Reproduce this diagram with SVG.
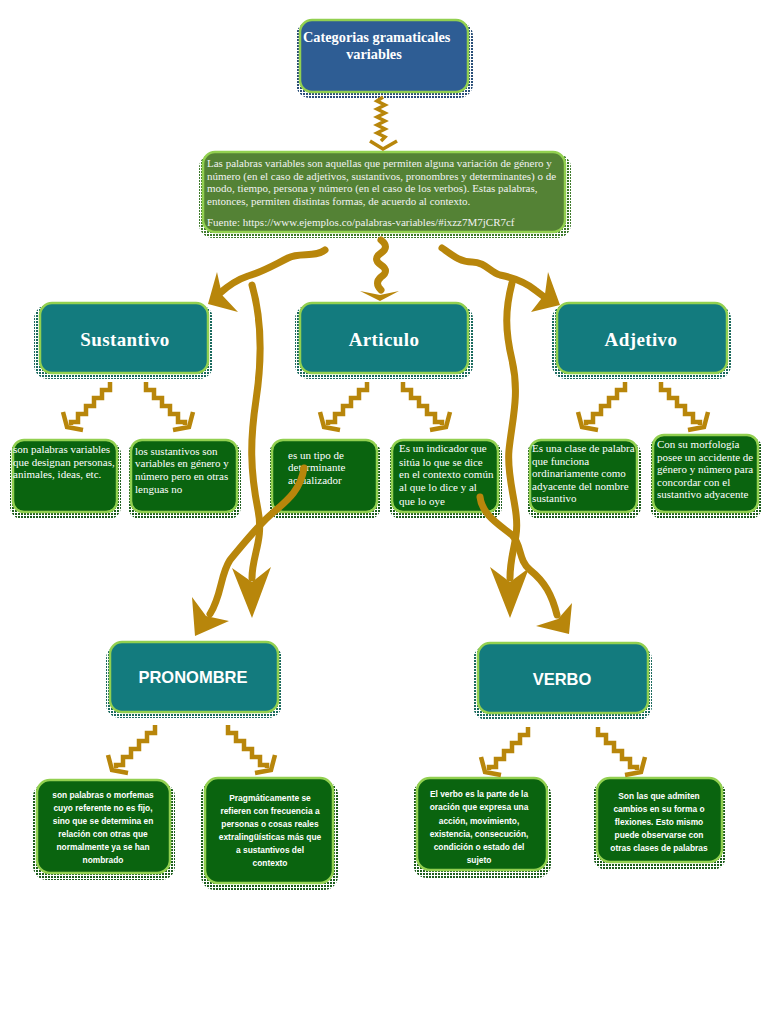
<svg xmlns="http://www.w3.org/2000/svg" xmlns:xlink="http://www.w3.org/1999/xlink" width="768" height="1024" viewBox="0 0 768 1024">
<style>
.bg{fill:#ffffff}
.frame{stroke:#92d050;stroke-width:2.5}
.blue{fill:#2e5d94}
.olive{fill:#548235}
.teal{fill:#137b7e}
.leaf{fill:#0a640f}
.arrow{fill:none;stroke:#b8860b;stroke-width:7;stroke-linecap:round;stroke-linejoin:round}
.head{fill:#b8860b}
.stair{fill:none;stroke:#b8860b;stroke-width:4.5;stroke-linejoin:miter;stroke-linecap:butt}
.zig{fill:none;stroke:#b8860b;stroke-width:3.5;stroke-linejoin:miter}
.t-title{font-family:"Liberation Serif",serif;font-weight:bold;font-size:14.3px;fill:#ffffff}
.t-info{font-family:"Liberation Serif",serif;font-size:11px;fill:#f2f2f2}
.t-cat{font-family:"Liberation Serif",serif;font-weight:bold;font-size:19px;fill:#ffffff;text-anchor:middle;letter-spacing:0.4px}
.t-leaf{font-family:"Liberation Serif",serif;font-size:11px;fill:#ffffff}
.t-cat2{font-family:"Liberation Sans",Arial,sans-serif;font-weight:bold;font-size:16.5px;fill:#ffffff;text-anchor:middle}
.t-leaf2{font-family:"Liberation Sans",Arial,sans-serif;font-weight:bold;font-size:8.4px;fill:#ffffff;text-anchor:middle}
</style>
<defs>
<pattern id="pBlue" width="3" height="3" patternUnits="userSpaceOnUse"><rect width="3" height="3" fill="#ffffff"/><rect width="2" height="2" fill="#2a4f78"/></pattern>
<pattern id="pOlive" width="3" height="3" patternUnits="userSpaceOnUse"><rect width="3" height="3" fill="#ffffff"/><rect width="2" height="2" fill="#3d7a2a"/></pattern>
<pattern id="pTeal" width="3" height="3" patternUnits="userSpaceOnUse"><rect width="3" height="3" fill="#ffffff"/><rect width="2" height="2" fill="#1b6a5e"/></pattern>
<pattern id="pGreen" width="3" height="3" patternUnits="userSpaceOnUse"><rect width="3" height="3" fill="#ffffff"/><rect width="2" height="2" fill="#1e5e1e"/></pattern>
<g id="stairL">
<path class="stair" d="M0,0 v8 h-8 v8 h-8 v8 h-8 v8 h-8 v8 h-7 v3"/>
<path class="stair" d="M-47,30 L-43,45 L-27,48"/>
</g>
</defs>
<rect class="bg" x="0" y="0" width="768" height="1024"/>

<g id="title">
<rect x="296" y="22" width="177" height="76" rx="14" fill="url(#pBlue)"/>
<rect class="blue frame" x="300" y="20" width="168" height="72" rx="12"/>
<text class="t-title" x="303" y="42">Categorias gramaticales</text>
<text class="t-title" x="374" y="59" text-anchor="middle">variables</text>
</g>

<g id="info">
<rect x="199" y="154" width="372" height="84" rx="14" fill="url(#pOlive)"/>
<rect class="olive frame" x="203" y="152" width="362" height="80" rx="12"/>
<text class="t-info" x="207" y="167">Las palabras variables son aquellas que permiten alguna variación de género y</text>
<text class="t-info" x="207" y="180">número (en el caso de adjetivos, sustantivos, pronombres y determinantes) o de</text>
<text class="t-info" x="207" y="192">modo, tiempo, persona y número (en el caso de los verbos). Estas palabras,</text>
<text class="t-info" x="207" y="205">entonces, permiten distintas formas, de acuerdo al contexto.</text>
<text class="t-info" x="207" y="226">Fuente: https://www.ejemplos.co/palabras-variables/#ixzz7M7jCR7cf</text>
</g>

<g id="sustantivo">
<rect x="34" y="305" width="179" height="74" rx="14" fill="url(#pTeal)"/>
<rect class="teal frame" x="40" y="303" width="168" height="70" rx="12"/>
<text class="t-cat" x="125" y="346">Sustantivo</text>
</g>
<g id="articulo">
<rect x="295" y="305" width="178" height="74" rx="14" fill="url(#pTeal)"/>
<rect class="teal frame" x="300" y="303" width="168" height="70" rx="12"/>
<text class="t-cat" x="384" y="346">Articulo</text>
</g>
<g id="adjetivo">
<rect x="552" y="305" width="179" height="74" rx="14" fill="url(#pTeal)"/>
<rect class="teal frame" x="557" y="303" width="170" height="70" rx="12"/>
<text class="t-cat" x="641" y="346" letter-spacing="1">Adjetivo</text>
</g>

<g id="sust-1">
<rect x="10" y="442" width="111" height="77" rx="12" fill="url(#pGreen)"/>
<rect class="leaf frame" x="13" y="440" width="104" height="72" rx="11"/>
<text class="t-leaf" x="13" y="453">son palabras variables</text>
<text class="t-leaf" x="13" y="466">que designan personas,</text>
<text class="t-leaf" x="13" y="478">animales, ideas, etc.</text>
</g>
<g id="sust-2">
<rect x="128" y="442" width="113" height="77" rx="12" fill="url(#pGreen)"/>
<rect class="leaf frame" x="131" y="440" width="106" height="72" rx="11"/>
<text class="t-leaf" x="135" y="455">los sustantivos son</text>
<text class="t-leaf" x="135" y="467">variables en género y</text>
<text class="t-leaf" x="135" y="480">número pero en otras</text>
<text class="t-leaf" x="135" y="493">lenguas no</text>
</g>
<g id="art-1">
<rect x="269" y="442" width="112" height="77" rx="12" fill="url(#pGreen)"/>
<rect class="leaf frame" x="272" y="440" width="105" height="72" rx="11"/>
<text class="t-leaf" x="288" y="459">es un tipo de</text>
<text class="t-leaf" x="288" y="471">determinante</text>
<text class="t-leaf" x="288" y="484">actualizador</text>
</g>
<g id="art-2">
<rect x="389" y="442" width="113" height="77" rx="12" fill="url(#pGreen)"/>
<rect class="leaf frame" x="392" y="440" width="106" height="72" rx="11"/>
<text class="t-leaf" x="399" y="452">Es un indicador que</text>
<text class="t-leaf" x="399" y="466">sitúa lo que se dice</text>
<text class="t-leaf" x="399" y="478">en el contexto común</text>
<text class="t-leaf" x="399" y="491">al que lo dice y al</text>
<text class="t-leaf" x="399" y="505">que lo oye</text>
</g>
<g id="adj-1">
<rect x="527" y="442" width="114" height="77" rx="12" fill="url(#pGreen)"/>
<rect class="leaf frame" x="530" y="440" width="107" height="72" rx="11"/>
<text class="t-leaf" x="532" y="452">Es una clase de palabra</text>
<text class="t-leaf" x="532" y="465">que funciona</text>
<text class="t-leaf" x="532" y="477">ordinariamente como</text>
<text class="t-leaf" x="532" y="490">adyacente del nombre</text>
<text class="t-leaf" x="532" y="502">sustantivo</text>
</g>
<g id="adj-2">
<rect x="650" y="437" width="112" height="82" rx="12" fill="url(#pGreen)"/>
<rect class="leaf frame" x="653" y="435" width="105" height="77" rx="11"/>
<text class="t-leaf" x="657" y="448">Con su morfología</text>
<text class="t-leaf" x="657" y="461">posee un accidente de</text>
<text class="t-leaf" x="657" y="473">género y número para</text>
<text class="t-leaf" x="657" y="486">concordar con el</text>
<text class="t-leaf" x="657" y="498">sustantivo adyacente</text>
</g>

<g id="pronombre">
<rect x="106" y="645" width="176" height="73" rx="14" fill="url(#pTeal)"/>
<rect class="teal frame" x="110" y="642" width="168" height="70" rx="12"/>
<text class="t-cat2" x="193" y="683">PRONOMBRE</text>
</g>
<g id="verbo">
<rect x="473" y="646" width="179" height="74" rx="14" fill="url(#pTeal)"/>
<rect class="teal frame" x="478" y="643" width="170" height="70" rx="12"/>
<text class="t-cat2" x="562" y="685">VERBO</text>
</g>

<g id="pron-1">
<rect x="33" y="783" width="142" height="97" rx="14" fill="url(#pGreen)"/>
<rect class="leaf frame" x="37" y="780" width="133" height="93" rx="13"/>
<text class="t-leaf2" x="103" y="798">son palabras o morfemas</text>
<text class="t-leaf2" x="103" y="811">cuyo referente no es fijo,</text>
<text class="t-leaf2" x="103" y="824">sino que se determina en</text>
<text class="t-leaf2" x="103" y="837">relación con otras que</text>
<text class="t-leaf2" x="103" y="850">normalmente ya se han</text>
<text class="t-leaf2" x="103" y="863">nombrado</text>
</g>
<g id="pron-2">
<rect x="201" y="781" width="137" height="109" rx="14" fill="url(#pGreen)"/>
<rect class="leaf frame" x="205" y="778" width="128" height="105" rx="13"/>
<text class="t-leaf2" x="270" y="801">Pragmáticamente se</text>
<text class="t-leaf2" x="270" y="814">refieren con frecuencia a</text>
<text class="t-leaf2" x="270" y="827">personas o cosas reales</text>
<text class="t-leaf2" x="270" y="840">extralingüísticas más que</text>
<text class="t-leaf2" x="270" y="853">a sustantivos del</text>
<text class="t-leaf2" x="270" y="866">contexto</text>
</g>
<g id="verbo-1">
<rect x="413" y="781" width="138" height="97" rx="14" fill="url(#pGreen)"/>
<rect class="leaf frame" x="417" y="778" width="130" height="92" rx="13"/>
<text class="t-leaf2" x="479" y="797">El verbo es la parte de la</text>
<text class="t-leaf2" x="479" y="810">oración que expresa una</text>
<text class="t-leaf2" x="479" y="824">acción, movimiento,</text>
<text class="t-leaf2" x="479" y="837">existencia, consecución,</text>
<text class="t-leaf2" x="479" y="850">condición o estado del</text>
<text class="t-leaf2" x="479" y="863">sujeto</text>
</g>
<g id="verbo-2">
<rect x="593" y="781" width="133" height="89" rx="14" fill="url(#pGreen)"/>
<rect class="leaf frame" x="597" y="778" width="125" height="84" rx="13"/>
<text class="t-leaf2" x="659" y="799">Son las que admiten</text>
<text class="t-leaf2" x="659" y="812">cambios en su forma o</text>
<text class="t-leaf2" x="659" y="825">flexiones. Esto mismo</text>
<text class="t-leaf2" x="659" y="838">puede observarse con</text>
<text class="t-leaf2" x="659" y="851">otras clases de palabras</text>
</g>

<g id="connectors">
<path class="zig" d="M383,97 l-6,4 l8,4 l-8,4 l8,4 l-8,4 l8,4 l-8,4 l8,4 l-8,4 l8,4 l-4,4"/>
<polyline class="zig" points="370,141 383,149 397,141"/>

<path class="arrow" d="M325,250 C315,258 300,252 288,258 C272,266 262,272 248,276 C236,280 228,286 220,293"/>
<polygon class="head" points="217,272 208,304 238,312 222,295"/>

<path class="arrow" d="M381,240 Q390,247 381,253 Q372,259 381,265 Q390,271 381,277 Q374,283 381,290"/>
<polygon class="head" points="360,291 380,301 399,291 380,295"/>

<path class="arrow" d="M442,248 C452,255 460,262 472,262 C485,262 490,272 500,275 C515,278 525,282 535,290 L543,296"/>
<polygon class="head" points="548,272 560,305 531,312 545,294"/>

<path class="arrow" d="M252,285 C262,320 262,360 256,400 C250,440 250,470 258,510 C264,540 252,555 252,578"/>
<polygon class="head" points="232,568 252,618 271,567 252,582"/>

<path class="arrow" d="M304,468 C300,495 280,505 265,520 C250,535 240,548 230,560 C220,575 222,595 210,614"/>
<polygon class="head" points="192,597 195,636 229,621 206,616"/>

<path class="arrow" d="M512,283 C505,310 505,330 512,360 C520,395 512,420 509,450 C506,480 520,510 516,535 C514,550 510,560 510,578"/>
<polygon class="head" points="490,567 510,618 529,568 510,582"/>

<path class="arrow" d="M480,497 C482,515 500,525 512,535 C522,545 518,560 530,570 C545,582 552,595 557,615"/>
<polygon class="head" points="572,603 569,634 536,626 558,619"/>

<use xlink:href="#stairL" transform="translate(110,382)"/>
<use xlink:href="#stairL" transform="translate(146,382) scale(-1,1)"/>
<use xlink:href="#stairL" transform="translate(367,382)"/>
<use xlink:href="#stairL" transform="translate(403,382) scale(-1,1)"/>
<use xlink:href="#stairL" transform="translate(625,382)"/>
<use xlink:href="#stairL" transform="translate(661,382) scale(-1,1)"/>
<use xlink:href="#stairL" transform="translate(155,725)"/>
<use xlink:href="#stairL" transform="translate(228,725) scale(-1,1)"/>
<use xlink:href="#stairL" transform="translate(528,727)"/>
<use xlink:href="#stairL" transform="translate(598,727) scale(-1,1)"/>
</g>
</svg>
